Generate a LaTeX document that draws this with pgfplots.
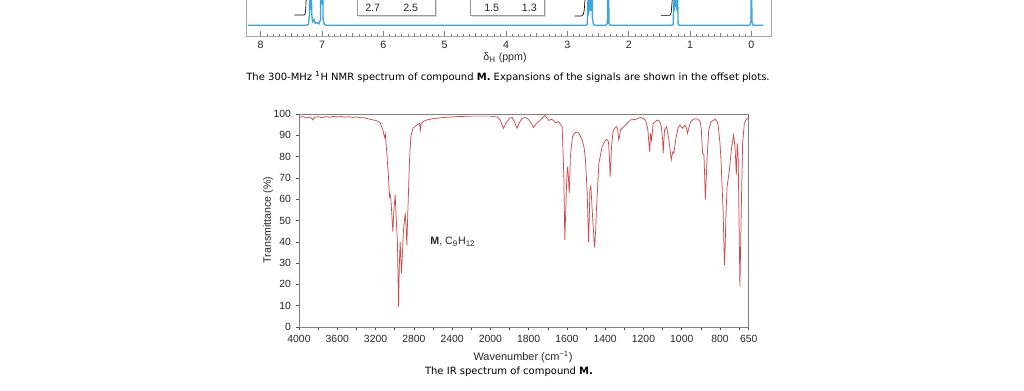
\documentclass[border=0pt]{standalone}
\usepackage{fontspec}
\setmainfont{Liberation Sans}
\newfontfamily\capfont{DejaVu Sans}
\usepackage{pgfplots}
\usepackage{pgfplotstable}
\pgfplotsset{compat=1.18}
\usetikzlibrary{shadows}
\definecolor{irred}{RGB}{208,72,72}
\definecolor{nmrblue}{RGB}{58,165,222}
\definecolor{framegray}{RGB}{128,128,128}
\definecolor{txt}{RGB}{40,40,40}

\pgfplotstableread{
nu T
4000 98.5
3960 98.8
3920 98.2
3880 98.6
3855 97.2
3840 98.4
3800 98.7
3760 98.3
3720 98.8
3680 98.5
3640 98.9
3600 98.6
3560 98.8
3520 98.5
3480 98.7
3440 98.4
3400 98.6
3360 98.3
3320 98.2
3280 97.8
3257 97.5
3200 97.0
3170 96.5
3152 95.9
3124 92.5
3105 89
3098 90.5
3090 86
3082 81.5
3065 70.6
3055 61.2
3048 62.5
3040 60.4
3030 53
3019 44.8
3008 55
2995 62.0
2985 52
2971 39.3
2960 9.5
2952 28
2943 40
2929 25.2
2918 36
2908 45.5
2890 53.4
2880 46
2873 38.5
2862 54.9
2845 78.4
2831 89.4
2810 93.3
2768 94.8
2740 95.6
2733 92.2
2723 95.6
2700 96.5
2664 97.2
2600 97.8
2500 98.3
2384 98.7
2200 99
2100 99
2000 99
1960 98.5
1948 97
1940 95
1931 93.3
1920 95.5
1913 96.4
1900 98
1887 98.4
1875 96.5
1861 93.3
1848 96
1834 98
1815 98.3
1800 97.5
1785 95.5
1774 93.7
1760 95.5
1747 96.4
1730 98
1717 99.3
1705 98.2
1695 97
1680 97.5
1670 97
1660 95.9
1650 96.2
1643 96.4
1632 95
1625 94
1620 81.5
1616 70
1611 40.8
1606 55
1603 64.3
1599 73
1596 75.3
1592 70
1588 62.8
1585 70
1582 80
1571 89.4
1559 91.2
1545 91.5
1538 91
1520 87.8
1510 84
1503 78.4
1494 62.8
1487 40
1483 52
1480 64.3
1475 66.2
1468 54.9
1456 37.4
1450 45
1446 54.9
1433 76.8
1416 84.7
1400 87.5
1393 88.1
1383 87
1378 80
1374 70.6
1370 78
1367 84.7
1358 92.5
1342 94.1
1335 93
1329 87.8
1324 90
1320 92.5
1294 94.8
1268 97.2
1240 97.5
1215 98.4
1200 97.8
1189 97
1180 94
1177 92.5
1168 82.3
1163 90.9
1158 87.8
1149 95.6
1128 97.2
1115 96.5
1107 94.1
1100 88
1097 81.5
1093 88
1090 92.5
1079 94.1
1067 87.8
1055 78.4
1050 81
1046 82.3
1041 81.5
1032 87.8
1020 93.3
1009 94.8
997 93.3
990 94
983 94.8
976 93.5
970 90.9
960 94.5
953 96.4
940 97.5
927 97.8
915 97.5
904 96.4
898 93
895 87.8
891 81.5
884 80.7
880 70
877 59.6
872 70
868 78.4
859 92.5
847 96.4
826 97.5
815 96.5
809 94.1
800 86
795 78.4
784 54.9
780 40
777 29.1
773 38
770 50.2
763 65.9
751 73.8
739 84.7
729 90.1
722 84.7
718 78
715 71.4
712 80
710 86.2
707 83
705 78.4
700 45
696 18.9
692 40
689 54.9
682 86.2
673 95.6
665 97.2
652 98.4
650 98.8
}\irdata

\pgfplotstableread{
ppm I
8.21 10.7
7.26 10.7
7.22 11.5
7.205 20
7.195 60
7.188 25
7.178 70
7.168 22
7.155 14
7.13 16
7.11 12.5
7.08 13.5
7.05 12
7.025 16
7.012 90
7.003 30
6.994 90
6.982 16
6.96 11.5
6.93 10.7
2.70 10.7
2.675 12
2.662 40
2.655 20
2.645 90
2.636 24
2.622 90
2.613 24
2.600 60
2.592 18
2.578 12
2.56 10.7
2.37 10.7
2.348 12.5
2.335 90
2.322 12.5
2.30 10.7
1.30 10.7
1.275 12
1.262 45
1.254 24
1.245 90
1.236 28
1.224 90
1.215 25
1.205 45
1.195 13
1.18 10.7
0.03 10.7
0.008 14
0.0 90
-0.008 14
-0.03 10.7
-0.19 10.7
}\nmrdata

\pgfplotstableread{
ppm I
7.45 20.3
7.29 20.3
7.275 21.5
7.265 26
7.26 33
7.25 36
7.23 40
7.21 50
}\intA

\pgfplotstableread{
ppm I
2.88 19.4
2.77 19.4
2.74 21
2.725 25
2.715 33
2.70 45
}\intB

\pgfplotstableread{
ppm I
1.47 20
1.33 20
1.31 22
1.30 27
1.29 36
1.28 45
}\intC

\begin{document}
\begin{tikzpicture}
\useasboundingbox (0,0) rectangle (768pt,293.25pt);
\fill[white] (0,0) rectangle (768pt,293.25pt);
\clip (0,0) rectangle (768pt,293.25pt);

% ---------------- NMR (cropped) ----------------
\begin{axis}[at={(185pt,265.7pt)}, anchor=south west, scale only axis,
  width=393.2pt, height=80pt,
  x dir=reverse, xmin=-0.318, xmax=8.228, ymin=0, ymax=100,
  axis line style={draw=black!35},
  xtick={0,1,2,3,4,5,6,7,8}, minor x tick num=9,
  extra x ticks={0.5,1.5,2.5,3.5,4.5,5.5,6.5,7.5}, extra x tick labels={},
  extra x tick style={major tick length=3pt},
  tick align=inside, xtick pos=bottom, ytick=\empty,
  major tick length=4.5pt, minor tick length=1.8pt,
  tick style={black!50, line width=0.4pt},
  xticklabel style={font=\fontsize{8}{9}\selectfont, text=txt},
  /pgf/number format/assume math mode=true,
]
\addplot[nmrblue, line width=1pt] table[x=ppm, y=I]{\nmrdata};
\addplot[black, line width=0.5pt] table[x=ppm, y=I]{\intA};
\addplot[black, line width=0.5pt] table[x=ppm, y=I]{\intB};
\addplot[black, line width=0.5pt] table[x=ppm, y=I]{\intC};
\end{axis}

% ---------------- IR ----------------
\begin{axis}[at={(224.25pt,48pt)}, anchor=south west, scale only axis,
  width=337.3pt, height=159.75pt,
  xmin=0, xmax=4700, ymin=0, ymax=100,
  xtick={0,400,800,1200,1600,2000,2400,2800,3200,3600,4000,4400,4700},
  xticklabels={4000,3600,3200,2800,2400,2000,1800,1600,1400,1200,1000,800,650},
  minor xtick={200,600,1000,1400,1800,2200,2600,3000,3400,3800,4200,4600},
  ytick={0,10,20,30,40,50,60,70,80,90,100},
  tick align=outside, xtick pos=bottom, ytick pos=left,
  major tick length=2.5pt, minor tick length=2.5pt,
  axis line style={draw=framegray},
  tick style={black!70, line width=0.4pt},
  ticklabel style={font=\fontsize{7.8}{9}\selectfont, text=txt},
  /pgf/number format/assume math mode=true,
]
\addplot[irred, line width=0.55pt] table[x expr={\thisrow{nu}>=2000 ? 4000-\thisrow{nu} : 6000-2*\thisrow{nu}}, y=T]{\irdata};
\end{axis}

% ---------------- text and inset boxes (pixel coordinates) ----------------
\begin{scope}[x=0.75pt, y=-0.75pt, yshift=293.25pt]
  \draw[black!40, fill=white, drop shadow={opacity=0.3, shadow xshift=1.2pt, shadow yshift=-1.2pt}] (357.3,-10) rectangle (435,15);
  \draw[black!40, fill=white, drop shadow={opacity=0.3, shadow xshift=1.2pt, shadow yshift=-1.2pt}] (470,-10) rectangle (544,15);
  \foreach \t in {372.7,391.7,410.7} {\draw[black!50, line width=0.4pt] (\t,-3) -- (\t,0.5);}
  \foreach \t in {491.7,510.5,529.3} {\draw[black!50, line width=0.4pt] (\t,-3) -- (\t,0.5);}
  \node[font=\fontsize{8}{9}\selectfont, text=txt] at (372.7,7.5) {2.7};
  \node[font=\fontsize{8}{9}\selectfont, text=txt] at (410.7,7.5) {2.5};
  \node[font=\fontsize{8}{9}\selectfont, text=txt] at (491.7,7.5) {1.5};
  \node[font=\fontsize{8}{9}\selectfont, text=txt] at (529.3,7.5) {1.3};

  \node[font=\fontsize{8}{9}\selectfont, text=txt] at (505,58) {δ\textsubscript{H} (ppm)};
  \node[font=\capfont\fontsize{7.5}{9}\selectfont, text=black] at (508,77)
    {The 300-MHz \textsuperscript{1}H NMR spectrum of compound \textbf{M.} Expansions of the signals are shown in the offset plots.};

  \node[font=\fontsize{8}{9}\selectfont, text=txt, rotate=90] at (268,220) {Transmittance (\%)};
  \node[font=\fontsize{8.2}{9}\selectfont, text=txt] at (523,357) {Wavenumber (cm\textsuperscript{−1})};
  \node[font=\capfont\fontsize{7.5}{9}\selectfont, text=black] at (509,372) {The IR spectrum of compound \textbf{M.}};
  \node[font=\fontsize{8}{9}\selectfont, text=txt, anchor=west] at (425.7,242) {\textbf{M}, C\textsubscript{9}H\textsubscript{12}};
\end{scope}
\end{tikzpicture}
\end{document}
